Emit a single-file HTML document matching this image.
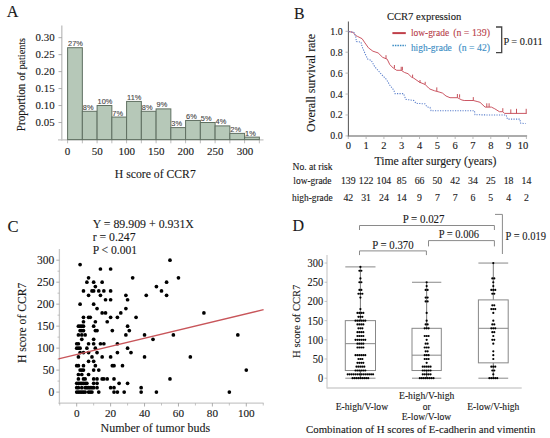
<!DOCTYPE html>
<html><head><meta charset="utf-8"><style>
html,body{margin:0;padding:0;background:#fff;}
body{width:550px;height:438px;overflow:hidden;}
svg{display:block;}
</style></head><body>
<svg width="550" height="438" viewBox="0 0 550 438">
<rect width="550" height="438" fill="#fff"/>
<text x="6.8" y="16.6" font-size="16.2" text-anchor="start" fill="#1a1a1a" stroke="#1a1a1a" stroke-width="0.12" font-family="Liberation Serif, serif" >A</text>
<line x1="61.8" y1="25.5" x2="61.8" y2="140.5" stroke="#c4c4c4" stroke-width="1.4" />
<line x1="58" y1="139.9" x2="263.5" y2="139.9" stroke="#c4c4c4" stroke-width="1.4" />
<line x1="58.5" y1="122.53" x2="61.8" y2="122.53" stroke="#999" stroke-width="0.8" />
<text x="54.6" y="126.23" font-size="11" text-anchor="end" fill="#1a1a1a" stroke="#1a1a1a" stroke-width="0.12" font-family="Liberation Serif, serif" textLength="19" lengthAdjust="spacingAndGlyphs" >0.05</text>
<line x1="58.5" y1="105.56" x2="61.8" y2="105.56" stroke="#999" stroke-width="0.8" />
<text x="54.6" y="109.26" font-size="11" text-anchor="end" fill="#1a1a1a" stroke="#1a1a1a" stroke-width="0.12" font-family="Liberation Serif, serif" textLength="19" lengthAdjust="spacingAndGlyphs" >0.10</text>
<line x1="58.5" y1="88.59" x2="61.8" y2="88.59" stroke="#999" stroke-width="0.8" />
<text x="54.6" y="92.29" font-size="11" text-anchor="end" fill="#1a1a1a" stroke="#1a1a1a" stroke-width="0.12" font-family="Liberation Serif, serif" textLength="19" lengthAdjust="spacingAndGlyphs" >0.15</text>
<line x1="58.5" y1="71.62" x2="61.8" y2="71.62" stroke="#999" stroke-width="0.8" />
<text x="54.6" y="75.32" font-size="11" text-anchor="end" fill="#1a1a1a" stroke="#1a1a1a" stroke-width="0.12" font-family="Liberation Serif, serif" textLength="19" lengthAdjust="spacingAndGlyphs" >0.20</text>
<line x1="58.5" y1="54.650000000000006" x2="61.8" y2="54.650000000000006" stroke="#999" stroke-width="0.8" />
<text x="54.6" y="58.35" font-size="11" text-anchor="end" fill="#1a1a1a" stroke="#1a1a1a" stroke-width="0.12" font-family="Liberation Serif, serif" textLength="19" lengthAdjust="spacingAndGlyphs" >0.25</text>
<line x1="58.5" y1="37.68000000000001" x2="61.8" y2="37.68000000000001" stroke="#999" stroke-width="0.8" />
<text x="54.6" y="41.38" font-size="11" text-anchor="end" fill="#1a1a1a" stroke="#1a1a1a" stroke-width="0.12" font-family="Liberation Serif, serif" textLength="19" lengthAdjust="spacingAndGlyphs" >0.30</text>
<line x1="67.6" y1="140" x2="67.6" y2="143.3" stroke="#aaa" stroke-width="0.8" />
<line x1="82.35" y1="140" x2="82.35" y2="143.3" stroke="#aaa" stroke-width="0.8" />
<line x1="97.1" y1="140" x2="97.1" y2="143.3" stroke="#aaa" stroke-width="0.8" />
<line x1="111.85" y1="140" x2="111.85" y2="143.3" stroke="#aaa" stroke-width="0.8" />
<line x1="126.6" y1="140" x2="126.6" y2="143.3" stroke="#aaa" stroke-width="0.8" />
<line x1="141.35" y1="140" x2="141.35" y2="143.3" stroke="#aaa" stroke-width="0.8" />
<line x1="156.1" y1="140" x2="156.1" y2="143.3" stroke="#aaa" stroke-width="0.8" />
<line x1="170.85" y1="140" x2="170.85" y2="143.3" stroke="#aaa" stroke-width="0.8" />
<line x1="185.6" y1="140" x2="185.6" y2="143.3" stroke="#aaa" stroke-width="0.8" />
<line x1="200.35" y1="140" x2="200.35" y2="143.3" stroke="#aaa" stroke-width="0.8" />
<line x1="215.1" y1="140" x2="215.1" y2="143.3" stroke="#aaa" stroke-width="0.8" />
<line x1="229.85" y1="140" x2="229.85" y2="143.3" stroke="#aaa" stroke-width="0.8" />
<line x1="244.6" y1="140" x2="244.6" y2="143.3" stroke="#aaa" stroke-width="0.8" />
<line x1="259.35" y1="140" x2="259.35" y2="143.3" stroke="#aaa" stroke-width="0.8" />
<rect x="67.60" y="47.70" width="14.75" height="91.90" fill="#b6c8b8" stroke="#5f6f61" stroke-width="1"/>
<text x="68.1" y="46.2" font-size="7.4" text-anchor="start" fill="#484848" stroke="#484848" stroke-width="0.12" font-family="Liberation Sans, sans-serif" >27%</text>
<rect x="82.35" y="111.28" width="14.75" height="28.32" fill="#b6c8b8" stroke="#5f6f61" stroke-width="1"/>
<text x="82.85" y="109.78" font-size="7.4" text-anchor="start" fill="#484848" stroke="#484848" stroke-width="0.12" font-family="Liberation Sans, sans-serif" >8%</text>
<rect x="97.10" y="105.50" width="14.75" height="34.10" fill="#b6c8b8" stroke="#5f6f61" stroke-width="1"/>
<text x="97.6" y="104.0" font-size="7.4" text-anchor="start" fill="#484848" stroke="#484848" stroke-width="0.12" font-family="Liberation Sans, sans-serif" >10%</text>
<rect x="111.85" y="117.06" width="14.75" height="22.54" fill="#b6c8b8" stroke="#5f6f61" stroke-width="1"/>
<text x="112.35" y="115.56" font-size="7.4" text-anchor="start" fill="#484848" stroke="#484848" stroke-width="0.12" font-family="Liberation Sans, sans-serif" >7%</text>
<rect x="126.60" y="101.42" width="14.75" height="38.18" fill="#b6c8b8" stroke="#5f6f61" stroke-width="1"/>
<text x="127.1" y="99.92" font-size="7.4" text-anchor="start" fill="#484848" stroke="#484848" stroke-width="0.12" font-family="Liberation Sans, sans-serif" >11%</text>
<rect x="141.35" y="111.28" width="14.75" height="28.32" fill="#b6c8b8" stroke="#5f6f61" stroke-width="1"/>
<text x="141.85" y="109.78" font-size="7.4" text-anchor="start" fill="#484848" stroke="#484848" stroke-width="0.12" font-family="Liberation Sans, sans-serif" >8%</text>
<rect x="156.10" y="108.90" width="14.75" height="30.70" fill="#b6c8b8" stroke="#5f6f61" stroke-width="1"/>
<text x="156.6" y="107.4" font-size="7.4" text-anchor="start" fill="#484848" stroke="#484848" stroke-width="0.12" font-family="Liberation Sans, sans-serif" >9%</text>
<rect x="170.85" y="127.60" width="14.75" height="12.00" fill="#b6c8b8" stroke="#5f6f61" stroke-width="1"/>
<text x="171.35" y="126.1" font-size="7.4" text-anchor="start" fill="#484848" stroke="#484848" stroke-width="0.12" font-family="Liberation Sans, sans-serif" >3%</text>
<rect x="185.60" y="120.46" width="14.75" height="19.14" fill="#b6c8b8" stroke="#5f6f61" stroke-width="1"/>
<text x="186.1" y="118.96" font-size="7.4" text-anchor="start" fill="#484848" stroke="#484848" stroke-width="0.12" font-family="Liberation Sans, sans-serif" >6%</text>
<rect x="200.35" y="122.50" width="14.75" height="17.10" fill="#b6c8b8" stroke="#5f6f61" stroke-width="1"/>
<text x="200.85" y="121.0" font-size="7.4" text-anchor="start" fill="#484848" stroke="#484848" stroke-width="0.12" font-family="Liberation Sans, sans-serif" >5%</text>
<rect x="215.10" y="125.90" width="14.75" height="13.70" fill="#b6c8b8" stroke="#5f6f61" stroke-width="1"/>
<text x="215.6" y="124.4" font-size="7.4" text-anchor="start" fill="#484848" stroke="#484848" stroke-width="0.12" font-family="Liberation Sans, sans-serif" >4%</text>
<rect x="229.85" y="133.38" width="14.75" height="6.22" fill="#b6c8b8" stroke="#5f6f61" stroke-width="1"/>
<text x="230.35" y="131.88" font-size="7.4" text-anchor="start" fill="#484848" stroke="#484848" stroke-width="0.12" font-family="Liberation Sans, sans-serif" >2%</text>
<rect x="244.60" y="137.12" width="14.75" height="2.48" fill="#b6c8b8" stroke="#5f6f61" stroke-width="1"/>
<text x="245.1" y="135.62" font-size="7.4" text-anchor="start" fill="#484848" stroke="#484848" stroke-width="0.12" font-family="Liberation Sans, sans-serif" >1%</text>
<text x="67.6" y="155" font-size="11" text-anchor="middle" fill="#1a1a1a" stroke="#1a1a1a" stroke-width="0.12" font-family="Liberation Serif, serif" >0</text>
<text x="97.15" y="155" font-size="11" text-anchor="middle" fill="#1a1a1a" stroke="#1a1a1a" stroke-width="0.12" font-family="Liberation Serif, serif" >50</text>
<text x="126.7" y="155" font-size="11" text-anchor="middle" fill="#1a1a1a" stroke="#1a1a1a" stroke-width="0.12" font-family="Liberation Serif, serif" >100</text>
<text x="156.25" y="155" font-size="11" text-anchor="middle" fill="#1a1a1a" stroke="#1a1a1a" stroke-width="0.12" font-family="Liberation Serif, serif" >150</text>
<text x="185.8" y="155" font-size="11" text-anchor="middle" fill="#1a1a1a" stroke="#1a1a1a" stroke-width="0.12" font-family="Liberation Serif, serif" >200</text>
<text x="215.35" y="155" font-size="11" text-anchor="middle" fill="#1a1a1a" stroke="#1a1a1a" stroke-width="0.12" font-family="Liberation Serif, serif" >250</text>
<text x="244.9" y="155" font-size="11" text-anchor="middle" fill="#1a1a1a" stroke="#1a1a1a" stroke-width="0.12" font-family="Liberation Serif, serif" >300</text>
<text x="114.8" y="177.5" font-size="12" text-anchor="start" fill="#1a1a1a" stroke="#1a1a1a" stroke-width="0.12" font-family="Liberation Serif, serif" textLength="81" lengthAdjust="spacingAndGlyphs" >H score of CCR7</text>
<text transform="translate(24.8,131.2) rotate(-90)" x="0" y="0" font-size="12" text-anchor="start" fill="#1a1a1a" stroke="#1a1a1a" stroke-width="0.12" font-family="Liberation Serif, serif" textLength="47.6" lengthAdjust="spacingAndGlyphs">Proportion</text>
<text transform="translate(25.2,80.5) rotate(-90)" x="0" y="0" font-size="9.5" text-anchor="start" fill="#1a1a1a" stroke="#1a1a1a" stroke-width="0.12" font-family="Liberation Serif, serif" textLength="42.5" lengthAdjust="spacingAndGlyphs">of patients</text>
<text x="294" y="18.6" font-size="15.8" text-anchor="start" fill="#1a1a1a" stroke="#1a1a1a" stroke-width="0.12" font-family="Liberation Serif, serif" >B</text>
<line x1="348.4" y1="21.5" x2="348.4" y2="136.6" stroke="#5a5a5a" stroke-width="1.05" />
<line x1="347.7" y1="136.0" x2="527.1" y2="136.0" stroke="#5a5a5a" stroke-width="1.15" />
<line x1="345.5" y1="135.9" x2="348.4" y2="135.9" stroke="#aaa" stroke-width="0.8" />
<text x="342.6" y="139.4" font-size="10.5" text-anchor="end" fill="#1a1a1a" stroke="#1a1a1a" stroke-width="0.12" font-family="Liberation Serif, serif" textLength="12.3" lengthAdjust="spacingAndGlyphs" >0.0</text>
<line x1="345.5" y1="114.98" x2="348.4" y2="114.98" stroke="#aaa" stroke-width="0.8" />
<text x="342.6" y="118.48" font-size="10.5" text-anchor="end" fill="#1a1a1a" stroke="#1a1a1a" stroke-width="0.12" font-family="Liberation Serif, serif" textLength="12.3" lengthAdjust="spacingAndGlyphs" >0.2</text>
<line x1="345.5" y1="94.06" x2="348.4" y2="94.06" stroke="#aaa" stroke-width="0.8" />
<text x="342.6" y="97.56" font-size="10.5" text-anchor="end" fill="#1a1a1a" stroke="#1a1a1a" stroke-width="0.12" font-family="Liberation Serif, serif" textLength="12.3" lengthAdjust="spacingAndGlyphs" >0.4</text>
<line x1="345.5" y1="73.14" x2="348.4" y2="73.14" stroke="#aaa" stroke-width="0.8" />
<text x="342.6" y="76.64" font-size="10.5" text-anchor="end" fill="#1a1a1a" stroke="#1a1a1a" stroke-width="0.12" font-family="Liberation Serif, serif" textLength="12.3" lengthAdjust="spacingAndGlyphs" >0.6</text>
<line x1="345.5" y1="52.22" x2="348.4" y2="52.22" stroke="#aaa" stroke-width="0.8" />
<text x="342.6" y="55.72" font-size="10.5" text-anchor="end" fill="#1a1a1a" stroke="#1a1a1a" stroke-width="0.12" font-family="Liberation Serif, serif" textLength="12.3" lengthAdjust="spacingAndGlyphs" >0.8</text>
<line x1="345.5" y1="31.30000000000001" x2="348.4" y2="31.30000000000001" stroke="#aaa" stroke-width="0.8" />
<text x="342.6" y="34.8" font-size="10.5" text-anchor="end" fill="#1a1a1a" stroke="#1a1a1a" stroke-width="0.12" font-family="Liberation Serif, serif" textLength="12.3" lengthAdjust="spacingAndGlyphs" >1.0</text>
<line x1="348.3" y1="136.5" x2="348.3" y2="139" stroke="#aaa" stroke-width="0.8" />
<text x="348.3" y="149" font-size="10.5" text-anchor="middle" fill="#1a1a1a" stroke="#1a1a1a" stroke-width="0.12" font-family="Liberation Serif, serif" >0</text>
<line x1="366.11" y1="136.5" x2="366.11" y2="139" stroke="#aaa" stroke-width="0.8" />
<text x="366.11" y="149" font-size="10.5" text-anchor="middle" fill="#1a1a1a" stroke="#1a1a1a" stroke-width="0.12" font-family="Liberation Serif, serif" >1</text>
<line x1="383.92" y1="136.5" x2="383.92" y2="139" stroke="#aaa" stroke-width="0.8" />
<text x="383.92" y="149" font-size="10.5" text-anchor="middle" fill="#1a1a1a" stroke="#1a1a1a" stroke-width="0.12" font-family="Liberation Serif, serif" >2</text>
<line x1="401.73" y1="136.5" x2="401.73" y2="139" stroke="#aaa" stroke-width="0.8" />
<text x="401.73" y="149" font-size="10.5" text-anchor="middle" fill="#1a1a1a" stroke="#1a1a1a" stroke-width="0.12" font-family="Liberation Serif, serif" >3</text>
<line x1="419.54" y1="136.5" x2="419.54" y2="139" stroke="#aaa" stroke-width="0.8" />
<text x="419.54" y="149" font-size="10.5" text-anchor="middle" fill="#1a1a1a" stroke="#1a1a1a" stroke-width="0.12" font-family="Liberation Serif, serif" >4</text>
<line x1="437.35" y1="136.5" x2="437.35" y2="139" stroke="#aaa" stroke-width="0.8" />
<text x="437.35" y="149" font-size="10.5" text-anchor="middle" fill="#1a1a1a" stroke="#1a1a1a" stroke-width="0.12" font-family="Liberation Serif, serif" >5</text>
<line x1="455.15999999999997" y1="136.5" x2="455.15999999999997" y2="139" stroke="#aaa" stroke-width="0.8" />
<text x="455.16" y="149" font-size="10.5" text-anchor="middle" fill="#1a1a1a" stroke="#1a1a1a" stroke-width="0.12" font-family="Liberation Serif, serif" >6</text>
<line x1="472.97" y1="136.5" x2="472.97" y2="139" stroke="#aaa" stroke-width="0.8" />
<text x="472.97" y="149" font-size="10.5" text-anchor="middle" fill="#1a1a1a" stroke="#1a1a1a" stroke-width="0.12" font-family="Liberation Serif, serif" >7</text>
<line x1="490.78" y1="136.5" x2="490.78" y2="139" stroke="#aaa" stroke-width="0.8" />
<text x="490.78" y="149" font-size="10.5" text-anchor="middle" fill="#1a1a1a" stroke="#1a1a1a" stroke-width="0.12" font-family="Liberation Serif, serif" >8</text>
<line x1="508.59000000000003" y1="136.5" x2="508.59000000000003" y2="139" stroke="#aaa" stroke-width="0.8" />
<text x="508.59" y="149" font-size="10.5" text-anchor="middle" fill="#1a1a1a" stroke="#1a1a1a" stroke-width="0.12" font-family="Liberation Serif, serif" >9</text>
<line x1="526.4" y1="136.5" x2="526.4" y2="139" stroke="#aaa" stroke-width="0.8" />
<text x="522.9" y="149" font-size="10.5" text-anchor="middle" fill="#1a1a1a" stroke="#1a1a1a" stroke-width="0.12" font-family="Liberation Serif, serif" >10</text>
<text x="374.5" y="164.6" font-size="12" text-anchor="start" fill="#1a1a1a" stroke="#1a1a1a" stroke-width="0.12" font-family="Liberation Serif, serif" textLength="122" lengthAdjust="spacingAndGlyphs" >Time after surgery (years)</text>
<text transform="translate(315.4,132.0) rotate(-90)" x="0" y="0" font-size="12" text-anchor="start" fill="#1a1a1a" stroke="#1a1a1a" stroke-width="0.12" font-family="Liberation Serif, serif" textLength="98" lengthAdjust="spacingAndGlyphs">Overall survival rate</text>
<text x="292.6" y="169.8" font-size="9.8" text-anchor="start" fill="#1a1a1a" stroke="#1a1a1a" stroke-width="0.12" font-family="Liberation Serif, serif" textLength="40" lengthAdjust="spacingAndGlyphs" >No. at risk</text>
<text x="293.3" y="184.4" font-size="9.8" text-anchor="start" fill="#1a1a1a" stroke="#1a1a1a" stroke-width="0.12" font-family="Liberation Serif, serif" textLength="38.2" lengthAdjust="spacingAndGlyphs" >low-grade</text>
<text x="292.0" y="200.8" font-size="9.8" text-anchor="start" fill="#1a1a1a" stroke="#1a1a1a" stroke-width="0.12" font-family="Liberation Serif, serif" textLength="40.6" lengthAdjust="spacingAndGlyphs" >high-grade</text>
<text x="348.3" y="184.4" font-size="9.8" text-anchor="middle" fill="#1a1a1a" stroke="#1a1a1a" stroke-width="0.12" font-family="Liberation Serif, serif" >139</text>
<text x="348.3" y="200.8" font-size="9.8" text-anchor="middle" fill="#1a1a1a" stroke="#1a1a1a" stroke-width="0.12" font-family="Liberation Serif, serif" >42</text>
<text x="366.11" y="184.4" font-size="9.8" text-anchor="middle" fill="#1a1a1a" stroke="#1a1a1a" stroke-width="0.12" font-family="Liberation Serif, serif" >122</text>
<text x="366.11" y="200.8" font-size="9.8" text-anchor="middle" fill="#1a1a1a" stroke="#1a1a1a" stroke-width="0.12" font-family="Liberation Serif, serif" >31</text>
<text x="383.92" y="184.4" font-size="9.8" text-anchor="middle" fill="#1a1a1a" stroke="#1a1a1a" stroke-width="0.12" font-family="Liberation Serif, serif" >104</text>
<text x="383.92" y="200.8" font-size="9.8" text-anchor="middle" fill="#1a1a1a" stroke="#1a1a1a" stroke-width="0.12" font-family="Liberation Serif, serif" >24</text>
<text x="401.73" y="184.4" font-size="9.8" text-anchor="middle" fill="#1a1a1a" stroke="#1a1a1a" stroke-width="0.12" font-family="Liberation Serif, serif" >85</text>
<text x="401.73" y="200.8" font-size="9.8" text-anchor="middle" fill="#1a1a1a" stroke="#1a1a1a" stroke-width="0.12" font-family="Liberation Serif, serif" >14</text>
<text x="419.54" y="184.4" font-size="9.8" text-anchor="middle" fill="#1a1a1a" stroke="#1a1a1a" stroke-width="0.12" font-family="Liberation Serif, serif" >66</text>
<text x="419.54" y="200.8" font-size="9.8" text-anchor="middle" fill="#1a1a1a" stroke="#1a1a1a" stroke-width="0.12" font-family="Liberation Serif, serif" >9</text>
<text x="437.35" y="184.4" font-size="9.8" text-anchor="middle" fill="#1a1a1a" stroke="#1a1a1a" stroke-width="0.12" font-family="Liberation Serif, serif" >50</text>
<text x="437.35" y="200.8" font-size="9.8" text-anchor="middle" fill="#1a1a1a" stroke="#1a1a1a" stroke-width="0.12" font-family="Liberation Serif, serif" >7</text>
<text x="455.16" y="184.4" font-size="9.8" text-anchor="middle" fill="#1a1a1a" stroke="#1a1a1a" stroke-width="0.12" font-family="Liberation Serif, serif" >42</text>
<text x="455.16" y="200.8" font-size="9.8" text-anchor="middle" fill="#1a1a1a" stroke="#1a1a1a" stroke-width="0.12" font-family="Liberation Serif, serif" >7</text>
<text x="472.97" y="184.4" font-size="9.8" text-anchor="middle" fill="#1a1a1a" stroke="#1a1a1a" stroke-width="0.12" font-family="Liberation Serif, serif" >34</text>
<text x="472.97" y="200.8" font-size="9.8" text-anchor="middle" fill="#1a1a1a" stroke="#1a1a1a" stroke-width="0.12" font-family="Liberation Serif, serif" >6</text>
<text x="490.78" y="184.4" font-size="9.8" text-anchor="middle" fill="#1a1a1a" stroke="#1a1a1a" stroke-width="0.12" font-family="Liberation Serif, serif" >25</text>
<text x="490.78" y="200.8" font-size="9.8" text-anchor="middle" fill="#1a1a1a" stroke="#1a1a1a" stroke-width="0.12" font-family="Liberation Serif, serif" >5</text>
<text x="508.59" y="184.4" font-size="9.8" text-anchor="middle" fill="#1a1a1a" stroke="#1a1a1a" stroke-width="0.12" font-family="Liberation Serif, serif" >18</text>
<text x="508.59" y="200.8" font-size="9.8" text-anchor="middle" fill="#1a1a1a" stroke="#1a1a1a" stroke-width="0.12" font-family="Liberation Serif, serif" >4</text>
<text x="526.4" y="184.4" font-size="9.8" text-anchor="middle" fill="#1a1a1a" stroke="#1a1a1a" stroke-width="0.12" font-family="Liberation Serif, serif" >14</text>
<text x="526.4" y="200.8" font-size="9.8" text-anchor="middle" fill="#1a1a1a" stroke="#1a1a1a" stroke-width="0.12" font-family="Liberation Serif, serif" >2</text>
<text x="386.9" y="19.6" font-size="11.3" text-anchor="start" fill="#1a1a1a" stroke="#1a1a1a" stroke-width="0.12" font-family="Liberation Serif, serif" textLength="74.5" lengthAdjust="spacingAndGlyphs" >CCR7 expression</text>
<line x1="392.4" y1="33.1" x2="405.8" y2="33.1" stroke="#c0404a" stroke-width="2" />
<line x1="392.4" y1="45.5" x2="405.8" y2="45.5" stroke="#3a8cc4" stroke-width="1.5" stroke-dasharray="1.5,1"/>
<text x="410.9" y="36.2" font-size="10.5" text-anchor="start" fill="#b8404a" stroke="#b8404a" stroke-width="0.12" font-family="Liberation Serif, serif" textLength="38.2" lengthAdjust="spacingAndGlyphs" >low-grade</text>
<text x="490" y="36.2" font-size="10.5" text-anchor="end" fill="#b8404a" stroke="#b8404a" stroke-width="0.12" font-family="Liberation Serif, serif" textLength="36.8" lengthAdjust="spacingAndGlyphs" >(n = 139)</text>
<text x="410.9" y="50.5" font-size="10.5" text-anchor="start" fill="#3a8cc4" stroke="#3a8cc4" stroke-width="0.12" font-family="Liberation Serif, serif" textLength="40.9" lengthAdjust="spacingAndGlyphs" >high-grade</text>
<text x="490" y="50.5" font-size="10.5" text-anchor="end" fill="#3a8cc4" stroke="#3a8cc4" stroke-width="0.12" font-family="Liberation Serif, serif" textLength="31.4" lengthAdjust="spacingAndGlyphs" >(n = 42)</text>
<path d="M496 27 H501.7 V52.7 H496" fill="none" stroke="#444" stroke-width="1.3"/>
<text x="503.4" y="44.5" font-size="11" text-anchor="start" fill="#1a1a1a" stroke="#1a1a1a" stroke-width="0.12" font-family="Liberation Serif, serif" textLength="39.2" lengthAdjust="spacingAndGlyphs" >P = 0.011</text>
<polyline points="348.5,31.5 353,32.3 355.8,35.6 357.5,36.4 362.1,38.7 364.4,42.1 368.4,47.8 372.9,51.2 378.1,52.9 382.6,57.3 387.2,59.2 389.8,64.6 393.2,68 396.7,70.3 401.2,70.3 404.6,72.5 408,73.7 411.5,77.1 413.8,78.2 419.5,82.2 425.2,84.5 428.6,88 430,89.1 434.6,90.8 439.1,92 442.5,93.1 446,96 450,97.7 457.4,97.7 461.9,100 464.2,100.5 473.3,100.5 477.9,101.7 480,102.3 485.1,107.1 491.4,107.1 494.8,108.8 499.4,111.7 502.8,111.7 504.5,113.4 526.7,113.4" fill="none" stroke="#c84e5c" stroke-width="0.95"/>
<line x1="386" y1="55.2" x2="386" y2="58.6" stroke="#c0404a" stroke-width="0.9" />
<line x1="394.4" y1="65" x2="394.4" y2="68.2" stroke="#c0404a" stroke-width="0.9" />
<line x1="401.2" y1="66.8" x2="401.2" y2="70.3" stroke="#c0404a" stroke-width="0.9" />
<line x1="402.4" y1="66.8" x2="402.4" y2="70.3" stroke="#c0404a" stroke-width="0.9" />
<line x1="412.6" y1="74.6" x2="412.6" y2="77.1" stroke="#c0404a" stroke-width="0.9" />
<line x1="420" y1="80" x2="420" y2="83" stroke="#c0404a" stroke-width="0.9" />
<line x1="425.2" y1="81.8" x2="425.2" y2="84.5" stroke="#c0404a" stroke-width="0.9" />
<line x1="436.8" y1="87.4" x2="436.8" y2="91" stroke="#c0404a" stroke-width="0.9" />
<line x1="457.4" y1="94" x2="457.4" y2="97.7" stroke="#c0404a" stroke-width="0.9" />
<line x1="459.6" y1="94.3" x2="459.6" y2="97.7" stroke="#c0404a" stroke-width="0.9" />
<line x1="473.3" y1="97.1" x2="473.3" y2="100.5" stroke="#c0404a" stroke-width="0.9" />
<line x1="486.8" y1="103.3" x2="486.8" y2="107.1" stroke="#c0404a" stroke-width="0.9" />
<line x1="489.1" y1="103.3" x2="489.1" y2="107.1" stroke="#c0404a" stroke-width="0.9" />
<line x1="502.8" y1="108.2" x2="502.8" y2="111.7" stroke="#c0404a" stroke-width="0.9" />
<line x1="510.8" y1="109.4" x2="510.8" y2="113.4" stroke="#c0404a" stroke-width="0.9" />
<line x1="516.5" y1="108.8" x2="516.5" y2="113.4" stroke="#c0404a" stroke-width="0.9" />
<line x1="526.2" y1="108.8" x2="526.2" y2="113.4" stroke="#c0404a" stroke-width="0.9" />
<polyline points="348.5,31.5 354,32.4 355.8,37 356.4,41.5 361,42.1 362.1,46.7 365.5,54.6 367.8,59.2 371.2,60.3 374.6,66.5 379.4,72 383,76 386.4,79.4 389.8,85.1 393.8,90.2 395,93.6 403.5,93.6 405.8,99.3 413.8,100.5 416,103.3 425.2,103.9 426.9,106.8 430,107.4 431.1,110.8 474.5,110.8 475,114.8 506.2,115.1 507.4,119.1 519.9,119.1 520.5,123.1 525.6,123.6" fill="none" stroke="#5a7fcc" stroke-width="1.05" stroke-dasharray="1.2,1.3"/>
<text x="7.6" y="231.6" font-size="16.6" text-anchor="start" fill="#1a1a1a" stroke="#1a1a1a" stroke-width="0.12" font-family="Liberation Serif, serif" >C</text>
<line x1="59.4" y1="249" x2="59.4" y2="403.8" stroke="#c8c8c8" stroke-width="1.3" />
<line x1="58.5" y1="403.1" x2="263.6" y2="403.1" stroke="#c8c8c8" stroke-width="1.3" />
<line x1="56.3" y1="392.1" x2="59.4" y2="392.1" stroke="#999" stroke-width="0.8" />
<text x="54.2" y="395.9" font-size="11.5" text-anchor="end" fill="#1a1a1a" stroke="#1a1a1a" stroke-width="0.12" font-family="Liberation Serif, serif" >0</text>
<line x1="57.5" y1="381.1075" x2="59.4" y2="381.1075" stroke="#aaa" stroke-width="0.7" />
<line x1="56.3" y1="370.115" x2="59.4" y2="370.115" stroke="#999" stroke-width="0.8" />
<text x="54.2" y="373.92" font-size="11.5" text-anchor="end" fill="#1a1a1a" stroke="#1a1a1a" stroke-width="0.12" font-family="Liberation Serif, serif" >50</text>
<line x1="57.5" y1="359.1225" x2="59.4" y2="359.1225" stroke="#aaa" stroke-width="0.7" />
<line x1="56.3" y1="348.13" x2="59.4" y2="348.13" stroke="#999" stroke-width="0.8" />
<text x="54.2" y="351.93" font-size="11.5" text-anchor="end" fill="#1a1a1a" stroke="#1a1a1a" stroke-width="0.12" font-family="Liberation Serif, serif" >100</text>
<line x1="57.5" y1="337.13750000000005" x2="59.4" y2="337.13750000000005" stroke="#aaa" stroke-width="0.7" />
<line x1="56.3" y1="326.14500000000004" x2="59.4" y2="326.14500000000004" stroke="#999" stroke-width="0.8" />
<text x="54.2" y="329.95" font-size="11.5" text-anchor="end" fill="#1a1a1a" stroke="#1a1a1a" stroke-width="0.12" font-family="Liberation Serif, serif" >150</text>
<line x1="57.5" y1="315.15250000000003" x2="59.4" y2="315.15250000000003" stroke="#aaa" stroke-width="0.7" />
<line x1="56.3" y1="304.16" x2="59.4" y2="304.16" stroke="#999" stroke-width="0.8" />
<text x="54.2" y="307.96" font-size="11.5" text-anchor="end" fill="#1a1a1a" stroke="#1a1a1a" stroke-width="0.12" font-family="Liberation Serif, serif" >200</text>
<line x1="57.5" y1="293.1675" x2="59.4" y2="293.1675" stroke="#aaa" stroke-width="0.7" />
<line x1="56.3" y1="282.175" x2="59.4" y2="282.175" stroke="#999" stroke-width="0.8" />
<text x="54.2" y="285.98" font-size="11.5" text-anchor="end" fill="#1a1a1a" stroke="#1a1a1a" stroke-width="0.12" font-family="Liberation Serif, serif" >250</text>
<line x1="57.5" y1="271.1825" x2="59.4" y2="271.1825" stroke="#aaa" stroke-width="0.7" />
<line x1="56.3" y1="260.19000000000005" x2="59.4" y2="260.19000000000005" stroke="#999" stroke-width="0.8" />
<text x="54.2" y="263.99" font-size="11.5" text-anchor="end" fill="#1a1a1a" stroke="#1a1a1a" stroke-width="0.12" font-family="Liberation Serif, serif" >300</text>
<line x1="59.74" y1="403.1" x2="59.74" y2="405.5" stroke="#aaa" stroke-width="0.7" />
<line x1="76.7" y1="403.1" x2="76.7" y2="406.5" stroke="#999" stroke-width="0.8" />
<text x="76.7" y="417.0" font-size="11.2" text-anchor="middle" fill="#1a1a1a" stroke="#1a1a1a" stroke-width="0.12" font-family="Liberation Serif, serif" >0</text>
<line x1="93.66" y1="403.1" x2="93.66" y2="405.5" stroke="#aaa" stroke-width="0.7" />
<line x1="110.62" y1="403.1" x2="110.62" y2="406.5" stroke="#999" stroke-width="0.8" />
<text x="110.62" y="417.0" font-size="11.2" text-anchor="middle" fill="#1a1a1a" stroke="#1a1a1a" stroke-width="0.12" font-family="Liberation Serif, serif" >20</text>
<line x1="127.58" y1="403.1" x2="127.58" y2="405.5" stroke="#aaa" stroke-width="0.7" />
<line x1="144.54000000000002" y1="403.1" x2="144.54000000000002" y2="406.5" stroke="#999" stroke-width="0.8" />
<text x="144.54" y="417.0" font-size="11.2" text-anchor="middle" fill="#1a1a1a" stroke="#1a1a1a" stroke-width="0.12" font-family="Liberation Serif, serif" >40</text>
<line x1="161.5" y1="403.1" x2="161.5" y2="405.5" stroke="#aaa" stroke-width="0.7" />
<line x1="178.45999999999998" y1="403.1" x2="178.45999999999998" y2="406.5" stroke="#999" stroke-width="0.8" />
<text x="178.46" y="417.0" font-size="11.2" text-anchor="middle" fill="#1a1a1a" stroke="#1a1a1a" stroke-width="0.12" font-family="Liberation Serif, serif" >60</text>
<line x1="195.42000000000002" y1="403.1" x2="195.42000000000002" y2="405.5" stroke="#aaa" stroke-width="0.7" />
<line x1="212.38" y1="403.1" x2="212.38" y2="406.5" stroke="#999" stroke-width="0.8" />
<text x="212.38" y="417.0" font-size="11.2" text-anchor="middle" fill="#1a1a1a" stroke="#1a1a1a" stroke-width="0.12" font-family="Liberation Serif, serif" >80</text>
<line x1="229.33999999999997" y1="403.1" x2="229.33999999999997" y2="405.5" stroke="#aaa" stroke-width="0.7" />
<line x1="246.3" y1="403.1" x2="246.3" y2="406.5" stroke="#999" stroke-width="0.8" />
<text x="246.3" y="417.0" font-size="11.2" text-anchor="middle" fill="#1a1a1a" stroke="#1a1a1a" stroke-width="0.12" font-family="Liberation Serif, serif" >100</text>
<line x1="263.26" y1="403.1" x2="263.26" y2="405.5" stroke="#aaa" stroke-width="0.7" />
<text x="92.7" y="227.5" font-size="11.5" text-anchor="start" fill="#1a1a1a" stroke="#1a1a1a" stroke-width="0.12" font-family="Liberation Serif, serif" textLength="101.2" lengthAdjust="spacingAndGlyphs" >Y = 89.909 + 0.931X</text>
<text x="92.7" y="240.5" font-size="11.5" text-anchor="start" fill="#1a1a1a" stroke="#1a1a1a" stroke-width="0.12" font-family="Liberation Serif, serif" textLength="42.9" lengthAdjust="spacingAndGlyphs" >r = 0.247</text>
<text x="92.7" y="253.6" font-size="11.5" text-anchor="start" fill="#1a1a1a" stroke="#1a1a1a" stroke-width="0.12" font-family="Liberation Serif, serif" textLength="44.5" lengthAdjust="spacingAndGlyphs" >P &lt; 0.001</text>
<text x="100.6" y="432.4" font-size="12" text-anchor="start" fill="#1a1a1a" stroke="#1a1a1a" stroke-width="0.12" font-family="Liberation Serif, serif" textLength="109.5" lengthAdjust="spacingAndGlyphs" >Number of tumor buds</text>
<text transform="translate(25.8,363.1) rotate(-90)" x="0" y="0" font-size="11.6" text-anchor="start" fill="#1a1a1a" stroke="#1a1a1a" stroke-width="0.12" font-family="Liberation Serif, serif" textLength="80.3" lengthAdjust="spacingAndGlyphs">H score of CCR7</text>
<g fill="#000"><circle cx="80.09" cy="264.59" r="1.85"/><circle cx="100.44" cy="268.98" r="1.85"/><circle cx="110.62" cy="268.98" r="1.85"/><circle cx="88.57" cy="277.78" r="1.85"/><circle cx="86.88" cy="282.18" r="1.85"/><circle cx="93.66" cy="282.18" r="1.85"/><circle cx="102.14" cy="282.18" r="1.85"/><circle cx="95.36" cy="286.57" r="1.85"/><circle cx="83.48" cy="290.97" r="1.85"/><circle cx="91.96" cy="290.97" r="1.85"/><circle cx="93.66" cy="290.97" r="1.85"/><circle cx="98.75" cy="290.97" r="1.85"/><circle cx="103.84" cy="290.97" r="1.85"/><circle cx="110.62" cy="290.97" r="1.85"/><circle cx="88.57" cy="295.37" r="1.85"/><circle cx="100.44" cy="295.37" r="1.85"/><circle cx="125.88" cy="295.37" r="1.85"/><circle cx="105.53" cy="299.76" r="1.85"/><circle cx="110.62" cy="299.76" r="1.85"/><circle cx="127.58" cy="299.76" r="1.85"/><circle cx="80.09" cy="304.16" r="1.85"/><circle cx="93.66" cy="304.16" r="1.85"/><circle cx="97.05" cy="308.56" r="1.85"/><circle cx="125.88" cy="308.56" r="1.85"/><circle cx="169.98" cy="260.19" r="1.85"/><circle cx="132.67" cy="277.78" r="1.85"/><circle cx="178.46" cy="277.78" r="1.85"/><circle cx="166.59" cy="282.18" r="1.85"/><circle cx="156.41" cy="286.57" r="1.85"/><circle cx="161.50" cy="290.97" r="1.85"/><circle cx="146.24" cy="295.37" r="1.85"/><circle cx="166.59" cy="295.37" r="1.85"/><circle cx="102.14" cy="312.95" r="1.85"/><circle cx="105.53" cy="312.95" r="1.85"/><circle cx="120.80" cy="312.95" r="1.85"/><circle cx="83.48" cy="317.35" r="1.85"/><circle cx="88.57" cy="317.35" r="1.85"/><circle cx="90.27" cy="317.35" r="1.85"/><circle cx="110.62" cy="317.35" r="1.85"/><circle cx="117.40" cy="317.35" r="1.85"/><circle cx="83.48" cy="321.75" r="1.85"/><circle cx="95.36" cy="321.75" r="1.85"/><circle cx="107.23" cy="321.75" r="1.85"/><circle cx="78.40" cy="326.15" r="1.85"/><circle cx="80.09" cy="326.15" r="1.85"/><circle cx="81.79" cy="326.15" r="1.85"/><circle cx="83.48" cy="326.15" r="1.85"/><circle cx="93.66" cy="326.15" r="1.85"/><circle cx="127.58" cy="326.15" r="1.85"/><circle cx="80.09" cy="330.54" r="1.85"/><circle cx="81.79" cy="330.54" r="1.85"/><circle cx="83.48" cy="330.54" r="1.85"/><circle cx="95.36" cy="330.54" r="1.85"/><circle cx="97.05" cy="330.54" r="1.85"/><circle cx="112.32" cy="330.54" r="1.85"/><circle cx="129.28" cy="330.54" r="1.85"/><circle cx="78.40" cy="334.94" r="1.85"/><circle cx="81.79" cy="334.94" r="1.85"/><circle cx="85.18" cy="334.94" r="1.85"/><circle cx="125.88" cy="334.94" r="1.85"/><circle cx="81.79" cy="339.34" r="1.85"/><circle cx="93.66" cy="339.34" r="1.85"/><circle cx="76.70" cy="343.73" r="1.85"/><circle cx="78.40" cy="343.73" r="1.85"/><circle cx="88.57" cy="343.73" r="1.85"/><circle cx="93.66" cy="343.73" r="1.85"/><circle cx="100.44" cy="343.73" r="1.85"/><circle cx="103.84" cy="343.73" r="1.85"/><circle cx="117.40" cy="343.73" r="1.85"/><circle cx="76.70" cy="348.13" r="1.85"/><circle cx="78.40" cy="348.13" r="1.85"/><circle cx="80.09" cy="348.13" r="1.85"/><circle cx="86.88" cy="348.13" r="1.85"/><circle cx="95.36" cy="348.13" r="1.85"/><circle cx="127.58" cy="348.13" r="1.85"/><circle cx="80.09" cy="352.53" r="1.85"/><circle cx="83.48" cy="352.53" r="1.85"/><circle cx="88.57" cy="352.53" r="1.85"/><circle cx="97.05" cy="352.53" r="1.85"/><circle cx="117.40" cy="352.53" r="1.85"/><circle cx="78.40" cy="356.92" r="1.85"/><circle cx="91.96" cy="356.92" r="1.85"/><circle cx="102.14" cy="356.92" r="1.85"/><circle cx="110.62" cy="356.92" r="1.85"/><circle cx="88.57" cy="361.32" r="1.85"/><circle cx="93.66" cy="361.32" r="1.85"/><circle cx="136.06" cy="317.35" r="1.85"/><circle cx="144.54" cy="334.94" r="1.85"/><circle cx="153.02" cy="339.34" r="1.85"/><circle cx="173.37" cy="334.94" r="1.85"/><circle cx="130.97" cy="352.53" r="1.85"/><circle cx="144.54" cy="356.92" r="1.85"/><circle cx="76.70" cy="365.72" r="1.85"/><circle cx="78.40" cy="365.72" r="1.85"/><circle cx="83.48" cy="365.72" r="1.85"/><circle cx="95.36" cy="365.72" r="1.85"/><circle cx="80.09" cy="370.12" r="1.85"/><circle cx="81.79" cy="370.12" r="1.85"/><circle cx="83.48" cy="370.12" r="1.85"/><circle cx="93.66" cy="370.12" r="1.85"/><circle cx="98.75" cy="370.12" r="1.85"/><circle cx="78.40" cy="374.51" r="1.85"/><circle cx="81.79" cy="374.51" r="1.85"/><circle cx="88.57" cy="374.51" r="1.85"/><circle cx="78.40" cy="378.91" r="1.85"/><circle cx="83.48" cy="378.91" r="1.85"/><circle cx="85.18" cy="378.91" r="1.85"/><circle cx="93.66" cy="378.91" r="1.85"/><circle cx="97.05" cy="378.91" r="1.85"/><circle cx="102.14" cy="378.91" r="1.85"/><circle cx="103.84" cy="378.91" r="1.85"/><circle cx="107.23" cy="378.91" r="1.85"/><circle cx="114.01" cy="378.91" r="1.85"/><circle cx="169.98" cy="378.91" r="1.85"/><circle cx="76.70" cy="383.31" r="1.85"/><circle cx="78.40" cy="383.31" r="1.85"/><circle cx="80.09" cy="383.31" r="1.85"/><circle cx="81.79" cy="383.31" r="1.85"/><circle cx="83.48" cy="383.31" r="1.85"/><circle cx="85.18" cy="383.31" r="1.85"/><circle cx="86.88" cy="383.31" r="1.85"/><circle cx="93.66" cy="383.31" r="1.85"/><circle cx="97.05" cy="383.31" r="1.85"/><circle cx="119.10" cy="383.31" r="1.85"/><circle cx="127.58" cy="383.31" r="1.85"/><circle cx="76.70" cy="387.70" r="1.85"/><circle cx="78.40" cy="387.70" r="1.85"/><circle cx="81.79" cy="387.70" r="1.85"/><circle cx="85.18" cy="387.70" r="1.85"/><circle cx="86.88" cy="387.70" r="1.85"/><circle cx="88.57" cy="387.70" r="1.85"/><circle cx="90.27" cy="387.70" r="1.85"/><circle cx="91.96" cy="387.70" r="1.85"/><circle cx="93.66" cy="387.70" r="1.85"/><circle cx="97.05" cy="387.70" r="1.85"/><circle cx="110.62" cy="387.70" r="1.85"/><circle cx="114.01" cy="387.70" r="1.85"/><circle cx="141.15" cy="387.70" r="1.85"/><circle cx="76.70" cy="392.10" r="1.85"/><circle cx="78.40" cy="392.10" r="1.85"/><circle cx="80.09" cy="392.10" r="1.85"/><circle cx="81.79" cy="392.10" r="1.85"/><circle cx="83.48" cy="392.10" r="1.85"/><circle cx="85.18" cy="392.10" r="1.85"/><circle cx="88.57" cy="392.10" r="1.85"/><circle cx="90.27" cy="392.10" r="1.85"/><circle cx="91.96" cy="392.10" r="1.85"/><circle cx="98.75" cy="392.10" r="1.85"/><circle cx="114.01" cy="392.10" r="1.85"/><circle cx="117.40" cy="392.10" r="1.85"/><circle cx="124.19" cy="392.10" r="1.85"/><circle cx="141.15" cy="392.10" r="1.85"/><circle cx="156.41" cy="392.10" r="1.85"/><circle cx="112.32" cy="365.72" r="1.85"/><circle cx="114.01" cy="365.72" r="1.85"/><circle cx="122.49" cy="365.72" r="1.85"/><circle cx="203.90" cy="312.95" r="1.85"/><circle cx="237.82" cy="334.94" r="1.85"/><circle cx="190.33" cy="356.92" r="1.85"/><circle cx="246.30" cy="370.12" r="1.85"/><circle cx="229.34" cy="392.10" r="1.85"/></g>
<line x1="58.5" y1="358.9" x2="263.6" y2="309.7" stroke="#c8555a" stroke-width="1.3" />
<text x="292.5" y="231.1" font-size="16" text-anchor="start" fill="#1a1a1a" stroke="#1a1a1a" stroke-width="0.12" font-family="Liberation Serif, serif" >D</text>
<line x1="327" y1="255" x2="327" y2="388.5" stroke="#d0d0d0" stroke-width="1.3" />
<line x1="327" y1="388" x2="521.7" y2="388" stroke="#d0d0d0" stroke-width="1.3" />
<line x1="324.5" y1="378.2" x2="327" y2="378.2" stroke="#aaa" stroke-width="0.7" />
<text x="323.2" y="382.1" font-size="11.6" text-anchor="end" fill="#1a1a1a" stroke="#1a1a1a" stroke-width="0.12" font-family="Liberation Serif, serif" textLength="5.2" lengthAdjust="spacingAndGlyphs" >0</text>
<line x1="324.5" y1="359.01" x2="327" y2="359.01" stroke="#aaa" stroke-width="0.7" />
<text x="323.2" y="362.91" font-size="11.6" text-anchor="end" fill="#1a1a1a" stroke="#1a1a1a" stroke-width="0.12" font-family="Liberation Serif, serif" textLength="10.4" lengthAdjust="spacingAndGlyphs" >50</text>
<line x1="324.5" y1="339.82" x2="327" y2="339.82" stroke="#aaa" stroke-width="0.7" />
<text x="323.2" y="343.72" font-size="11.6" text-anchor="end" fill="#1a1a1a" stroke="#1a1a1a" stroke-width="0.12" font-family="Liberation Serif, serif" textLength="15.6" lengthAdjust="spacingAndGlyphs" >100</text>
<line x1="324.5" y1="320.63" x2="327" y2="320.63" stroke="#aaa" stroke-width="0.7" />
<text x="323.2" y="324.53" font-size="11.6" text-anchor="end" fill="#1a1a1a" stroke="#1a1a1a" stroke-width="0.12" font-family="Liberation Serif, serif" textLength="15.6" lengthAdjust="spacingAndGlyphs" >150</text>
<line x1="324.5" y1="301.44" x2="327" y2="301.44" stroke="#aaa" stroke-width="0.7" />
<text x="323.2" y="305.34" font-size="11.6" text-anchor="end" fill="#1a1a1a" stroke="#1a1a1a" stroke-width="0.12" font-family="Liberation Serif, serif" textLength="15.6" lengthAdjust="spacingAndGlyphs" >200</text>
<line x1="324.5" y1="282.25" x2="327" y2="282.25" stroke="#aaa" stroke-width="0.7" />
<text x="323.2" y="286.15" font-size="11.6" text-anchor="end" fill="#1a1a1a" stroke="#1a1a1a" stroke-width="0.12" font-family="Liberation Serif, serif" textLength="15.6" lengthAdjust="spacingAndGlyphs" >250</text>
<line x1="324.5" y1="263.06" x2="327" y2="263.06" stroke="#aaa" stroke-width="0.7" />
<text x="323.2" y="266.96" font-size="11.6" text-anchor="end" fill="#1a1a1a" stroke="#1a1a1a" stroke-width="0.12" font-family="Liberation Serif, serif" textLength="15.6" lengthAdjust="spacingAndGlyphs" >300</text>
<text transform="translate(300.4,357.9) rotate(-90)" x="0" y="0" font-size="11.2" text-anchor="start" fill="#1a1a1a" stroke="#1a1a1a" stroke-width="0.12" font-family="Liberation Serif, serif" textLength="73.3" lengthAdjust="spacingAndGlyphs">H score of CCR7</text>
<line x1="345.3" y1="266.898" x2="375.5" y2="266.898" stroke="#888" stroke-width="1" />
<line x1="345.3" y1="378.2" x2="375.5" y2="378.2" stroke="#888" stroke-width="1" />
<line x1="360.4" y1="266.898" x2="360.4" y2="320.63" stroke="#555" stroke-width="0.8" />
<line x1="360.4" y1="370.524" x2="360.4" y2="378.2" stroke="#555" stroke-width="0.8" />
<rect x="345.3" y="320.63" width="30.20" height="49.89" fill="none" stroke="#888" stroke-width="1"/>
<line x1="345.3" y1="343.658" x2="375.5" y2="343.658" stroke="#888" stroke-width="1" />
<g fill="#000"><circle cx="360.40" cy="266.90" r="1.1"/><circle cx="359.42" cy="270.74" r="1.1"/><circle cx="361.38" cy="270.74" r="1.1"/><circle cx="360.40" cy="278.41" r="1.1"/><circle cx="359.42" cy="282.25" r="1.1"/><circle cx="361.38" cy="282.25" r="1.1"/><circle cx="359.42" cy="289.93" r="1.1"/><circle cx="361.38" cy="289.93" r="1.1"/><circle cx="358.45" cy="293.76" r="1.1"/><circle cx="360.40" cy="293.76" r="1.1"/><circle cx="362.35" cy="293.76" r="1.1"/><circle cx="360.40" cy="297.60" r="1.1"/><circle cx="360.40" cy="309.12" r="1.1"/><circle cx="357.47" cy="312.95" r="1.1"/><circle cx="359.42" cy="312.95" r="1.1"/><circle cx="361.38" cy="312.95" r="1.1"/><circle cx="363.32" cy="312.95" r="1.1"/><circle cx="358.45" cy="316.79" r="1.1"/><circle cx="360.40" cy="316.79" r="1.1"/><circle cx="362.35" cy="316.79" r="1.1"/><circle cx="355.52" cy="320.63" r="1.1"/><circle cx="357.47" cy="320.63" r="1.1"/><circle cx="359.42" cy="320.63" r="1.1"/><circle cx="361.38" cy="320.63" r="1.1"/><circle cx="363.32" cy="320.63" r="1.1"/><circle cx="365.27" cy="320.63" r="1.1"/><circle cx="357.47" cy="324.47" r="1.1"/><circle cx="359.42" cy="324.47" r="1.1"/><circle cx="361.38" cy="324.47" r="1.1"/><circle cx="363.32" cy="324.47" r="1.1"/><circle cx="358.45" cy="328.31" r="1.1"/><circle cx="360.40" cy="328.31" r="1.1"/><circle cx="362.35" cy="328.31" r="1.1"/><circle cx="357.47" cy="332.14" r="1.1"/><circle cx="359.42" cy="332.14" r="1.1"/><circle cx="361.38" cy="332.14" r="1.1"/><circle cx="363.32" cy="332.14" r="1.1"/><circle cx="357.47" cy="335.98" r="1.1"/><circle cx="359.42" cy="335.98" r="1.1"/><circle cx="361.38" cy="335.98" r="1.1"/><circle cx="363.32" cy="335.98" r="1.1"/><circle cx="355.52" cy="339.82" r="1.1"/><circle cx="357.47" cy="339.82" r="1.1"/><circle cx="359.42" cy="339.82" r="1.1"/><circle cx="361.38" cy="339.82" r="1.1"/><circle cx="363.32" cy="339.82" r="1.1"/><circle cx="365.27" cy="339.82" r="1.1"/><circle cx="357.47" cy="343.66" r="1.1"/><circle cx="359.42" cy="343.66" r="1.1"/><circle cx="361.38" cy="343.66" r="1.1"/><circle cx="363.32" cy="343.66" r="1.1"/><circle cx="357.47" cy="347.50" r="1.1"/><circle cx="359.42" cy="347.50" r="1.1"/><circle cx="361.38" cy="347.50" r="1.1"/><circle cx="363.32" cy="347.50" r="1.1"/><circle cx="355.52" cy="355.17" r="1.1"/><circle cx="357.47" cy="355.17" r="1.1"/><circle cx="359.42" cy="355.17" r="1.1"/><circle cx="361.38" cy="355.17" r="1.1"/><circle cx="363.32" cy="355.17" r="1.1"/><circle cx="365.27" cy="355.17" r="1.1"/><circle cx="358.45" cy="359.01" r="1.1"/><circle cx="360.40" cy="359.01" r="1.1"/><circle cx="362.35" cy="359.01" r="1.1"/><circle cx="357.47" cy="362.85" r="1.1"/><circle cx="359.42" cy="362.85" r="1.1"/><circle cx="361.38" cy="362.85" r="1.1"/><circle cx="363.32" cy="362.85" r="1.1"/><circle cx="356.50" cy="366.69" r="1.1"/><circle cx="358.45" cy="366.69" r="1.1"/><circle cx="360.40" cy="366.69" r="1.1"/><circle cx="362.35" cy="366.69" r="1.1"/><circle cx="364.30" cy="366.69" r="1.1"/><circle cx="355.52" cy="370.52" r="1.1"/><circle cx="357.47" cy="370.52" r="1.1"/><circle cx="359.42" cy="370.52" r="1.1"/><circle cx="361.38" cy="370.52" r="1.1"/><circle cx="363.32" cy="370.52" r="1.1"/><circle cx="365.27" cy="370.52" r="1.1"/><circle cx="347.72" cy="374.36" r="1.1"/><circle cx="349.67" cy="374.36" r="1.1"/><circle cx="351.62" cy="374.36" r="1.1"/><circle cx="353.57" cy="374.36" r="1.1"/><circle cx="355.52" cy="374.36" r="1.1"/><circle cx="357.47" cy="374.36" r="1.1"/><circle cx="359.42" cy="374.36" r="1.1"/><circle cx="361.38" cy="374.36" r="1.1"/><circle cx="363.32" cy="374.36" r="1.1"/><circle cx="365.27" cy="374.36" r="1.1"/><circle cx="367.22" cy="374.36" r="1.1"/><circle cx="369.17" cy="374.36" r="1.1"/><circle cx="371.12" cy="374.36" r="1.1"/><circle cx="373.07" cy="374.36" r="1.1"/><circle cx="352.60" cy="378.20" r="1.1"/><circle cx="354.55" cy="378.20" r="1.1"/><circle cx="356.50" cy="378.20" r="1.1"/><circle cx="358.45" cy="378.20" r="1.1"/><circle cx="360.40" cy="378.20" r="1.1"/><circle cx="362.35" cy="378.20" r="1.1"/><circle cx="364.30" cy="378.20" r="1.1"/><circle cx="366.25" cy="378.20" r="1.1"/><circle cx="368.20" cy="378.20" r="1.1"/></g>
<line x1="412.0" y1="282.25" x2="441.3" y2="282.25" stroke="#888" stroke-width="1" />
<line x1="412.0" y1="378.2" x2="441.3" y2="378.2" stroke="#888" stroke-width="1" />
<line x1="426.65" y1="282.25" x2="426.65" y2="328.306" stroke="#555" stroke-width="0.8" />
<line x1="426.65" y1="370.524" x2="426.65" y2="378.2" stroke="#555" stroke-width="0.8" />
<rect x="412.0" y="328.31" width="29.30" height="42.22" fill="none" stroke="#888" stroke-width="1"/>
<line x1="412.0" y1="355.17199999999997" x2="441.3" y2="355.17199999999997" stroke="#888" stroke-width="1" />
<g fill="#000"><circle cx="426.65" cy="282.25" r="1.1"/><circle cx="426.65" cy="286.09" r="1.1"/><circle cx="425.67" cy="289.93" r="1.1"/><circle cx="427.62" cy="289.93" r="1.1"/><circle cx="425.67" cy="297.60" r="1.1"/><circle cx="427.62" cy="297.60" r="1.1"/><circle cx="425.67" cy="301.44" r="1.1"/><circle cx="427.62" cy="301.44" r="1.1"/><circle cx="426.65" cy="312.95" r="1.1"/><circle cx="426.65" cy="320.63" r="1.1"/><circle cx="425.67" cy="324.47" r="1.1"/><circle cx="427.62" cy="324.47" r="1.1"/><circle cx="424.70" cy="328.31" r="1.1"/><circle cx="426.65" cy="328.31" r="1.1"/><circle cx="428.60" cy="328.31" r="1.1"/><circle cx="424.70" cy="335.98" r="1.1"/><circle cx="426.65" cy="335.98" r="1.1"/><circle cx="428.60" cy="335.98" r="1.1"/><circle cx="426.65" cy="339.82" r="1.1"/><circle cx="425.67" cy="343.66" r="1.1"/><circle cx="427.62" cy="343.66" r="1.1"/><circle cx="424.70" cy="347.50" r="1.1"/><circle cx="426.65" cy="347.50" r="1.1"/><circle cx="428.60" cy="347.50" r="1.1"/><circle cx="425.67" cy="351.33" r="1.1"/><circle cx="427.62" cy="351.33" r="1.1"/><circle cx="424.70" cy="355.17" r="1.1"/><circle cx="426.65" cy="355.17" r="1.1"/><circle cx="428.60" cy="355.17" r="1.1"/><circle cx="424.70" cy="359.01" r="1.1"/><circle cx="426.65" cy="359.01" r="1.1"/><circle cx="428.60" cy="359.01" r="1.1"/><circle cx="426.65" cy="362.85" r="1.1"/><circle cx="422.75" cy="366.69" r="1.1"/><circle cx="424.70" cy="366.69" r="1.1"/><circle cx="426.65" cy="366.69" r="1.1"/><circle cx="428.60" cy="366.69" r="1.1"/><circle cx="430.55" cy="366.69" r="1.1"/><circle cx="422.75" cy="370.52" r="1.1"/><circle cx="424.70" cy="370.52" r="1.1"/><circle cx="426.65" cy="370.52" r="1.1"/><circle cx="428.60" cy="370.52" r="1.1"/><circle cx="430.55" cy="370.52" r="1.1"/><circle cx="422.75" cy="374.36" r="1.1"/><circle cx="424.70" cy="374.36" r="1.1"/><circle cx="426.65" cy="374.36" r="1.1"/><circle cx="428.60" cy="374.36" r="1.1"/><circle cx="430.55" cy="374.36" r="1.1"/><circle cx="419.82" cy="378.20" r="1.1"/><circle cx="421.77" cy="378.20" r="1.1"/><circle cx="423.72" cy="378.20" r="1.1"/><circle cx="425.67" cy="378.20" r="1.1"/><circle cx="427.62" cy="378.20" r="1.1"/><circle cx="429.57" cy="378.20" r="1.1"/><circle cx="431.52" cy="378.20" r="1.1"/><circle cx="433.47" cy="378.20" r="1.1"/></g>
<line x1="478.4" y1="263.06" x2="508.2" y2="263.06" stroke="#888" stroke-width="1" />
<line x1="478.4" y1="378.2" x2="508.2" y2="378.2" stroke="#888" stroke-width="1" />
<line x1="493.29999999999995" y1="263.06" x2="493.29999999999995" y2="299.9048" stroke="#555" stroke-width="0.8" />
<line x1="493.29999999999995" y1="362.848" x2="493.29999999999995" y2="378.2" stroke="#555" stroke-width="0.8" />
<rect x="478.4" y="299.90" width="29.80" height="62.94" fill="none" stroke="#888" stroke-width="1"/>
<line x1="478.4" y1="328.306" x2="508.2" y2="328.306" stroke="#888" stroke-width="1" />
<g fill="#000"><circle cx="493.30" cy="263.06" r="1.1"/><circle cx="492.32" cy="278.41" r="1.1"/><circle cx="494.27" cy="278.41" r="1.1"/><circle cx="493.30" cy="282.25" r="1.1"/><circle cx="493.30" cy="286.09" r="1.1"/><circle cx="491.35" cy="289.93" r="1.1"/><circle cx="493.30" cy="289.93" r="1.1"/><circle cx="495.25" cy="289.93" r="1.1"/><circle cx="492.32" cy="293.76" r="1.1"/><circle cx="494.27" cy="293.76" r="1.1"/><circle cx="492.32" cy="305.28" r="1.1"/><circle cx="494.27" cy="305.28" r="1.1"/><circle cx="491.35" cy="309.12" r="1.1"/><circle cx="493.30" cy="309.12" r="1.1"/><circle cx="495.25" cy="309.12" r="1.1"/><circle cx="493.30" cy="312.95" r="1.1"/><circle cx="493.30" cy="320.63" r="1.1"/><circle cx="492.32" cy="324.47" r="1.1"/><circle cx="494.27" cy="324.47" r="1.1"/><circle cx="491.35" cy="328.31" r="1.1"/><circle cx="493.30" cy="328.31" r="1.1"/><circle cx="495.25" cy="328.31" r="1.1"/><circle cx="492.32" cy="332.14" r="1.1"/><circle cx="494.27" cy="332.14" r="1.1"/><circle cx="493.30" cy="335.98" r="1.1"/><circle cx="492.32" cy="339.82" r="1.1"/><circle cx="494.27" cy="339.82" r="1.1"/><circle cx="493.30" cy="343.66" r="1.1"/><circle cx="493.30" cy="351.33" r="1.1"/><circle cx="493.30" cy="355.17" r="1.1"/><circle cx="493.30" cy="359.01" r="1.1"/><circle cx="491.35" cy="366.69" r="1.1"/><circle cx="493.30" cy="366.69" r="1.1"/><circle cx="495.25" cy="366.69" r="1.1"/><circle cx="492.32" cy="370.52" r="1.1"/><circle cx="494.27" cy="370.52" r="1.1"/><circle cx="493.30" cy="374.36" r="1.1"/><circle cx="489.40" cy="378.20" r="1.1"/><circle cx="491.35" cy="378.20" r="1.1"/><circle cx="493.30" cy="378.20" r="1.1"/><circle cx="495.25" cy="378.20" r="1.1"/><circle cx="497.20" cy="378.20" r="1.1"/></g>
<path d="M359.5 230 V225.5 H494.4 V230" fill="none" stroke="#8a8a8a" stroke-width="1"/>
<path d="M359.5 255.1 V250.9 H426.4 V255.1" fill="none" stroke="#8a8a8a" stroke-width="1"/>
<path d="M428.5 246.4 V240.6 H494.4 V246.4" fill="none" stroke="#8a8a8a" stroke-width="1"/>
<path d="M495 214.4 H502.4 V254" fill="none" stroke="#8a8a8a" stroke-width="1"/>
<text x="402.7" y="222.7" font-size="12" text-anchor="start" fill="#1a1a1a" stroke="#1a1a1a" stroke-width="0.12" font-family="Liberation Serif, serif" textLength="41.8" lengthAdjust="spacingAndGlyphs" >P = 0.027</text>
<text x="372.2" y="249.1" font-size="12" text-anchor="start" fill="#1a1a1a" stroke="#1a1a1a" stroke-width="0.12" font-family="Liberation Serif, serif" textLength="41.4" lengthAdjust="spacingAndGlyphs" >P = 0.370</text>
<text x="438.7" y="238.4" font-size="12" text-anchor="start" fill="#1a1a1a" stroke="#1a1a1a" stroke-width="0.12" font-family="Liberation Serif, serif" textLength="40.3" lengthAdjust="spacingAndGlyphs" >P = 0.006</text>
<text x="505.6" y="239.6" font-size="12" text-anchor="start" fill="#1a1a1a" stroke="#1a1a1a" stroke-width="0.12" font-family="Liberation Serif, serif" textLength="40.4" lengthAdjust="spacingAndGlyphs" >P = 0.019</text>
<text x="335.7" y="410.1" font-size="9.5" text-anchor="start" fill="#1a1a1a" stroke="#1a1a1a" stroke-width="0.12" font-family="Liberation Serif, serif" textLength="52.4" lengthAdjust="spacingAndGlyphs" >E-high/V-low</text>
<text x="399.0" y="399.2" font-size="9.5" text-anchor="start" fill="#1a1a1a" stroke="#1a1a1a" stroke-width="0.12" font-family="Liberation Serif, serif" textLength="55.3" lengthAdjust="spacingAndGlyphs" >E-high/V-high</text>
<text x="426.6" y="410.1" font-size="9.5" text-anchor="middle" fill="#1a1a1a" stroke="#1a1a1a" stroke-width="0.12" font-family="Liberation Serif, serif" >or</text>
<text x="401.8" y="419.7" font-size="9.5" text-anchor="start" fill="#1a1a1a" stroke="#1a1a1a" stroke-width="0.12" font-family="Liberation Serif, serif" textLength="49.4" lengthAdjust="spacingAndGlyphs" >E-low/V-low</text>
<text x="467.3" y="410.4" font-size="9.5" text-anchor="start" fill="#1a1a1a" stroke="#1a1a1a" stroke-width="0.12" font-family="Liberation Serif, serif" textLength="52" lengthAdjust="spacingAndGlyphs" >E-low/V-high</text>
<text x="306.1" y="432.5" font-size="11" text-anchor="start" fill="#1a1a1a" stroke="#1a1a1a" stroke-width="0.12" font-family="Liberation Serif, serif" textLength="229.3" lengthAdjust="spacingAndGlyphs" >Combination of H scores of E-cadherin and vimentin</text>
</svg>
</body></html>
